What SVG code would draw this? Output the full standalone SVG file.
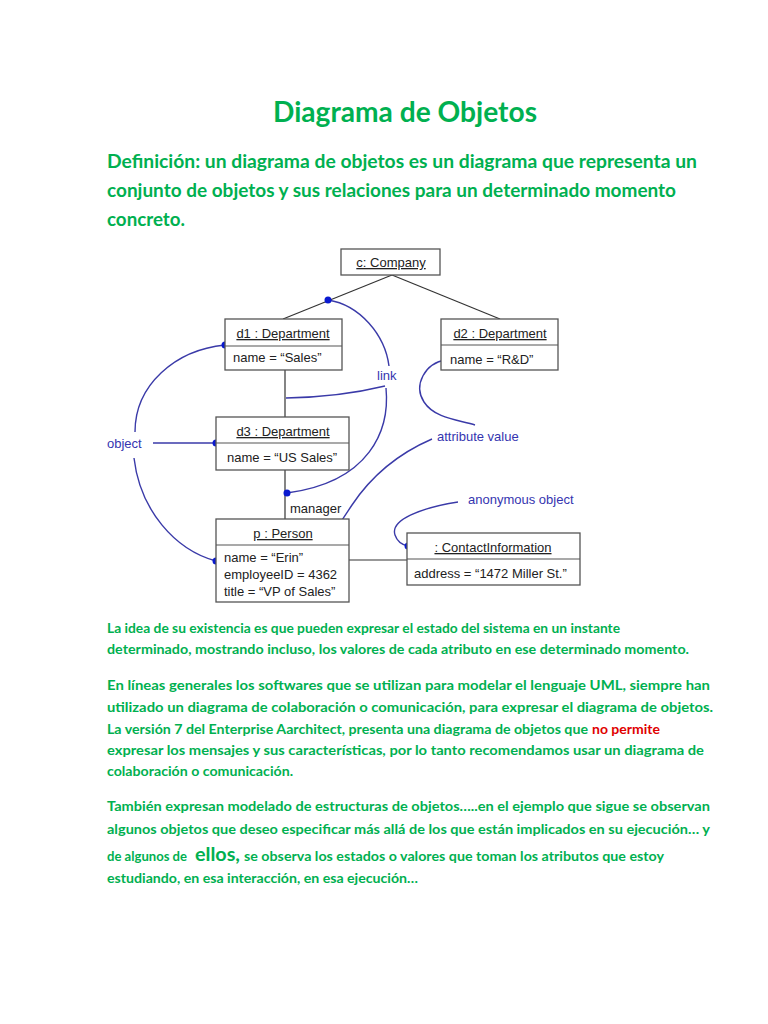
<svg xmlns="http://www.w3.org/2000/svg" width="768" height="1024" viewBox="0 0 768 1024">
<style>
.g{fill:#00b050;font-family:Lato,"Open Sans",sans-serif;font-weight:bold}
.p{font-size:13.5px}
.red{fill:#e00000}
.box{fill:#fff;stroke:#555;stroke-width:1.3}
.div{stroke:#555;stroke-width:1.2}
.t{font-family:"Liberation Sans",Arial,sans-serif;font-size:13px;fill:#222}
.u{text-decoration:underline}
.ln{stroke:#333;stroke-width:1.2;fill:none}
.bl{stroke:#3a3aa8;stroke-width:1.4;fill:none}
.bt{font-family:"Liberation Sans",Arial,sans-serif;font-size:13px;fill:#3535b0}
.dot{fill:#0a1ad0}
</style>
<rect width="768" height="1024" fill="#fff"/>
<text class="g" x="405" y="122" font-size="28" text-anchor="middle" textLength="264" lengthAdjust="spacingAndGlyphs">Diagrama de Objetos</text>
<g class="g" font-size="18">
<text x="107" y="168" textLength="590" lengthAdjust="spacingAndGlyphs">Definición: un diagrama  de objetos es un diagrama que representa un</text>
<text x="107" y="197" textLength="569" lengthAdjust="spacingAndGlyphs">conjunto de objetos y sus relaciones para un determinado momento</text>
<text x="107" y="226" textLength="78" lengthAdjust="spacingAndGlyphs">concreto.</text>
</g>
<g id="connectors">
<path class="ln" d="M392,275 L283,319"/>
<path class="ln" d="M392,275 L500,319"/>
<path class="ln" d="M285,370 L285,417"/>
<path class="ln" d="M285,470 L285,519"/>
<path class="ln" d="M349,560 L407,560"/>
<text class="t" x="290" y="513">manager</text>
<path class="bl" d="M328,300 C360,305 385,335 389,366"/>
<path class="bl" d="M385,386 Q340,397 286,398"/>
<path class="bl" d="M386,388 C390,430 370,482 287,493"/>
<path class="bl" d="M153,443 L216,443"/>
<path class="bl" d="M135,432 C135,385 175,350 225,345"/>
<path class="bl" d="M134,458 C140,510 175,550 216,561"/>
<path class="bl" d="M432,439 C395,455 370,478 352,505 S326,545 318,557"/>
<path class="bl" d="M446,360 C425,363 413,385 424,402 S460,420 475,425"/>
<path class="bl" d="M458,502 C420,508 390,520 395,535 Q398,544 408,546"/>
<circle class="dot" cx="328" cy="300" r="3.5"/>
<circle class="dot" cx="225" cy="345" r="3.5"/>
<circle class="dot" cx="446" cy="360" r="3"/>
<circle class="dot" cx="216" cy="443" r="3.5"/>
<circle class="dot" cx="287" cy="493" r="3.5"/>
<circle class="dot" cx="216" cy="561" r="3.5"/>
<circle class="dot" cx="318" cy="557" r="3.5"/>
<circle class="dot" cx="408" cy="546" r="3.5"/>
<text class="bt" x="377" y="380">link</text>
<text class="bt" x="107" y="448">object</text>
<text class="bt" x="437" y="441">attribute value</text>
<text class="bt" x="468" y="504">anonymous object</text>
</g>
<g id="company">
<rect class="box" x="341" y="249" width="99" height="26"/>
<text class="t u" x="391" y="267" text-anchor="middle">c: Company</text>
</g>
<g id="d1">
<rect class="box" x="225" y="319" width="117" height="51"/>
<line class="div" x1="225" y1="346" x2="342" y2="346"/>
<text class="t u" x="283" y="338" text-anchor="middle">d1 : Department</text>
<text class="t" x="233" y="362">name = “Sales”</text>
</g>
<g id="d2">
<rect class="box" x="441" y="319" width="117" height="51"/>
<line class="div" x1="441" y1="345" x2="558" y2="345"/>
<text class="t u" x="500" y="338" text-anchor="middle">d2 : Department</text>
<text class="t" x="450" y="364">name = “R&amp;D”</text>
</g>
<g id="d3">
<rect class="box" x="216" y="417" width="133" height="53"/>
<line class="div" x1="216" y1="443" x2="349" y2="443"/>
<text class="t u" x="283" y="436" text-anchor="middle">d3 : Department</text>
<text class="t" x="227" y="462">name = “US Sales”</text>
</g>
<g id="person">
<rect class="box" x="216" y="519" width="133" height="83"/>
<line class="div" x1="216" y1="545" x2="349" y2="545"/>
<text class="t u" x="283" y="538" text-anchor="middle">p : Person</text>
<text class="t" x="224" y="562">name = “Erin”</text>
<text class="t" x="224" y="579">employeeID = 4362</text>
<text class="t" x="224" y="596">title = “VP of Sales”</text>
</g>
<g id="contact">
<rect class="box" x="407" y="533" width="173" height="52"/>
<line class="div" x1="407" y1="559" x2="580" y2="559"/>
<text class="t u" x="493" y="552" text-anchor="middle">: ContactInformation</text>
<text class="t" x="414" y="578">address = “1472 Miller St.”</text>
</g>
<g class="g p">
<text x="107" y="633" textLength="513" lengthAdjust="spacingAndGlyphs">La idea de su existencia es que pueden expresar el estado del sistema en un instante</text>
<text x="107" y="654" textLength="582" lengthAdjust="spacingAndGlyphs">determinado, mostrando incluso, los valores de cada atributo en ese determinado momento.</text>
<text x="107" y="690" textLength="603" lengthAdjust="spacingAndGlyphs">En líneas generales los softwares que se utilizan para modelar el lenguaje UML, siempre han</text>
<text x="107" y="712" textLength="606" lengthAdjust="spacingAndGlyphs">utilizado un diagrama de colaboración o  comunicación, para expresar el diagrama de objetos.</text>
<text x="107" y="734" textLength="481" lengthAdjust="spacingAndGlyphs">La versión 7 del Enterprise Aarchitect, presenta una diagrama de objetos que</text>
<text class="red" x="592" y="734" textLength="68" lengthAdjust="spacingAndGlyphs">no permite</text>
<text x="107" y="755" textLength="597" lengthAdjust="spacingAndGlyphs">expresar los mensajes y sus características, por lo tanto recomendamos usar un diagrama de</text>
<text x="107" y="776" textLength="186" lengthAdjust="spacingAndGlyphs">colaboración o comunicación.</text>
<text x="107" y="811" textLength="603" lengthAdjust="spacingAndGlyphs">También expresan modelado de estructuras de objetos…..en el ejemplo que sigue se observan</text>
<text x="107" y="834" textLength="603" lengthAdjust="spacingAndGlyphs">algunos objetos que deseo especificar más allá de los que están implicados en su ejecución… y</text>
<text x="107" y="861" textLength="80" lengthAdjust="spacingAndGlyphs">de algunos de</text>
<text x="195" y="861" font-size="19" textLength="45" lengthAdjust="spacingAndGlyphs">ellos,</text>
<text x="244" y="861" textLength="420" lengthAdjust="spacingAndGlyphs">se observa los estados o valores que toman los atributos que estoy</text>
<text x="107" y="883" textLength="311" lengthAdjust="spacingAndGlyphs">estudiando, en esa interacción, en esa ejecución…</text>
</g>
</svg>
